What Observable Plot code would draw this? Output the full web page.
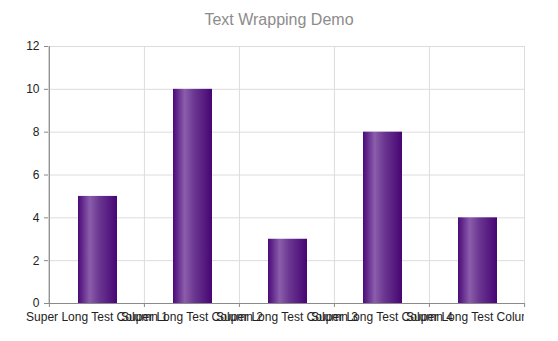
<!DOCTYPE html>
<html>
<head>
<meta charset="utf-8">
<script src="https://cdn.jsdelivr.net/npm/d3@7"></script>
<script src="https://cdn.jsdelivr.net/npm/@observablehq/plot@0.6"></script>
<style>
  html, body { margin: 0; padding: 0; background: #fff; }
  #title { height: 23px; padding-top: 11px; line-height: 20px; text-align: center;
    font: 16px "Liberation Sans", Arial, sans-serif; color: #8c8c8c; }
  #chart svg { display: block; }
</style>
</head>
<body>
<svg width="0" height="0" style="position:absolute">
  <defs>
    <linearGradient id="barGrad" x1="0" y1="0" x2="1" y2="0">
      <stop offset="0" stop-color="#4a0a79"/>
      <stop offset="0.3" stop-color="#8b5dab"/>
      <stop offset="0.55" stop-color="#6a3690"/>
      <stop offset="1" stop-color="#470574"/>
    </linearGradient>
  </defs>
</svg>
<div id="title">Text Wrapping Demo</div>
<div id="chart"></div>
<script>
const categories = [
  "Super Long Test Column 1",
  "Super Long Test Column 2",
  "Super Long Test Column 3",
  "Super Long Test Column 4",
  "Super Long Test Column 5"
];
const values = [5, 10, 3, 8, 4];
const yTicks = [0, 2, 4, 6, 8, 10, 12];

const data = categories.map((c, i) => ({category: c, value: values[i]}));

const W = 558, H = 307, mL = 48, mR = 34, mT = 12, mB = 38;
const bandW = (W - mL - mR) / categories.length;

const plot = Plot.plot({
  width: W,
  height: H,
  marginLeft: mL,
  marginRight: mR,
  marginTop: mT,
  marginBottom: mB,
  style: {fontFamily: "'Liberation Sans', Arial, sans-serif", fontSize: "12px", color: "#222", background: "#fff"},
  x: {domain: categories, padding: 0, label: null},
  y: {domain: [0, 12], label: null},
  marks: [
    Plot.gridY(yTicks, {stroke: "#dcdcdc", strokeOpacity: 1}),
    Plot.ruleX(categories, {dx: -bandW / 2, stroke: "#dcdcdc"}),
    Plot.frame({stroke: "#dcdcdc"}),
    Plot.barY(data, {x: "category", y: "value", fill: "url(#barGrad)", insetLeft: 29, insetRight: 27}),
    Plot.ruleY([0], {stroke: "#8a8a8a"}),
    Plot.ruleX(categories.slice(0, 1), {dx: -bandW / 2, stroke: "#8a8a8a"}),
    Plot.ruleX(categories, {dx: -bandW / 2, y1: 0, y2: 0, insetBottom: -4, stroke: "#8a8a8a"}),
    Plot.ruleX(categories.slice(-1), {dx: bandW / 2, y1: 0, y2: 0, insetBottom: -4, stroke: "#8a8a8a"}),
    Plot.axisY(yTicks, {tickSize: 4, tickPadding: 5, stroke: "#8a8a8a", fill: "#222"}),
    Plot.axisX({tickSize: 0, tickPadding: 9, fill: "#222"})
  ]
});

document.getElementById("chart").appendChild(plot);

// clip category labels at right edge of plot area
const svgNS = "http://www.w3.org/2000/svg";
const g = plot.querySelector("g[aria-label='x-axis tick label']");
if (g) {
  let ox = 0;
  const tl = g.transform && g.transform.baseVal;
  if (tl && tl.numberOfItems) ox = tl.consolidate().matrix.e;
  const defs = document.createElementNS(svgNS, "defs");
  const cp = document.createElementNS(svgNS, "clipPath");
  cp.setAttribute("id", "xlabClip");
  const r = document.createElementNS(svgNS, "rect");
  r.setAttribute("x", -ox - 100); r.setAttribute("y", -H);
  r.setAttribute("width", W - mR + 100); r.setAttribute("height", 3 * H);
  cp.appendChild(r); defs.appendChild(cp);
  plot.insertBefore(defs, plot.firstChild);
  g.setAttribute("clip-path", "url(#xlabClip)");
}
</script>
</body>
</html>
